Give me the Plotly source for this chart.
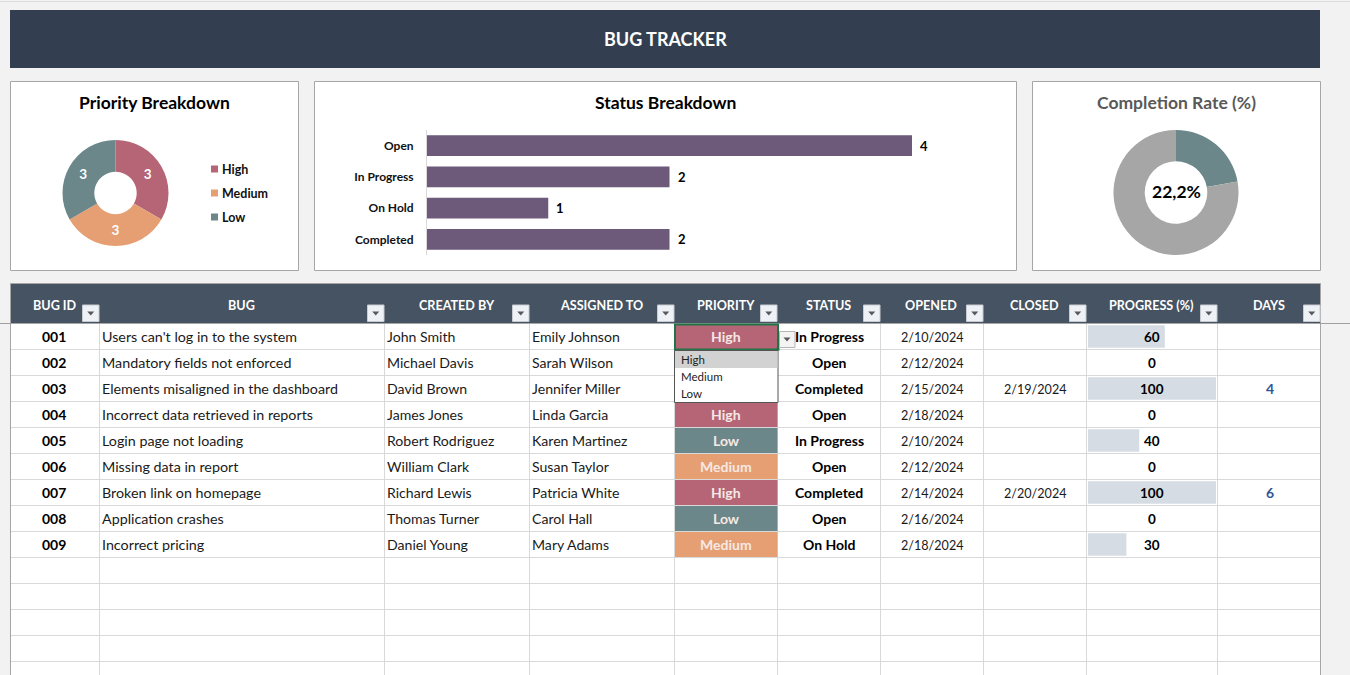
import plotly.graph_objects as go

W, H = 1350, 675
FONT = "Lato"

# ---- data ----
priority_labels = ["High", "Medium", "Low"]
priority_counts = [3, 3, 3]
status_labels = ["Open", "In Progress", "On Hold", "Completed"]
status_counts = [4, 2, 1, 2]
completion_labels = ["Completed", "Remaining"]
completion_values = [22.2, 77.8]
completion_text = "22,2%"

headers = ["BUG ID", "BUG", "CREATED BY", "ASSIGNED TO", "PRIORITY", "STATUS",
           "OPENED", "CLOSED", "PROGRESS (%)", "DAYS"]
bug_ids = ["001", "002", "003", "004", "005", "006", "007", "008", "009"]
bugs = ["Users can't log in to the system", "Mandatory fields not enforced",
        "Elements misaligned in the dashboard", "Incorrect data retrieved in reports",
        "Login page not loading", "Missing data in report", "Broken link on homepage",
        "Application crashes", "Incorrect pricing"]
created_by = ["John Smith", "Michael Davis", "David Brown", "James Jones", "Robert Rodriguez",
              "William Clark", "Richard Lewis", "Thomas Turner", "Daniel Young"]
assigned_to = ["Emily Johnson", "Sarah Wilson", "Jennifer Miller", "Linda Garcia", "Karen Martinez",
               "Susan Taylor", "Patricia White", "Carol Hall", "Mary Adams"]
# rows 002 and 003 are hidden behind the open drop-down list
priorities = ["High", None, None, "High", "Low", "Medium", "High", "Low", "Medium"]
statuses = ["In Progress", "Open", "Completed", "Open", "In Progress", "Open", "Completed", "Open", "On Hold"]
opened = ["2/10/2024", "2/12/2024", "2/15/2024", "2/18/2024", "2/10/2024", "2/12/2024",
          "2/14/2024", "2/16/2024", "2/18/2024"]
closed = ["", "", "2/19/2024", "", "", "", "2/20/2024", "", ""]
progress = [60, 0, 100, 0, 40, 0, 100, 0, 30]
days = ["", "", "4", "", "", "", "6", "", ""]
dropdown_items = ["High", "Medium", "Low"]

# ---- styles ----
C_BG, C_BANNER, C_HEAD = "#f2f2f2", "#333f50", "#465362"
C_CARD = "#a6a6a6"
C_GRID = "#d9d9d9"
C_PURPLE = "#6d597a"
C_BAR = "#d6dce4"
P_COL = {"High": "#b56576", "Medium": "#e59f73", "Low": "#6b8789"}
col_edges = [10.5, 99.5, 384.5, 529.5, 674.5, 777.5, 880.5, 983.5, 1086.5, 1217.5, 1320.5]
HEAD_T, HEAD_B, ROW_H = 283.5, 323.5, 26


def px(x):
    return x / W


def py(y):
    return 1 - y / H


shapes, annos = [], []


def rect(x0, y0, x1, y1, fill=None, line=None, lw=1, layer="below"):
    shapes.append(dict(type="rect", xref="paper", yref="paper", x0=px(x0), x1=px(x1), y0=py(y0), y1=py(y1),
                       fillcolor=fill or "rgba(0,0,0,0)", line=dict(color=line or "rgba(0,0,0,0)", width=lw if line else 0),
                       layer=layer))


def seg(x0, y0, x1, y1, color, lw=1):
    shapes.append(dict(type="line", xref="paper", yref="paper", x0=px(x0), x1=px(x1), y0=py(y0), y1=py(y1),
                       line=dict(color=color, width=lw), layer="below"))


def tri(cx, cy, color="#595959"):
    path = "M %f %f L %f %f L %f %f Z" % (px(cx - 3.5), py(cy - 2), px(cx + 3.5), py(cy - 2), px(cx), py(cy + 2))
    shapes.append(dict(type="path", xref="paper", yref="paper", path=path, fillcolor=color,
                       line=dict(width=0), layer="below"))


def text(x, y, s, size=14, color="#1a1a1a", bold=False, anchor="center"):
    annos.append(dict(xref="paper", yref="paper", x=px(x), y=py(y), text=s, showarrow=False, xanchor=anchor,
                      yanchor="middle", borderpad=0, borderwidth=0,
                      font=dict(family=FONT, size=size, color=color, weight=700 if bold else 400)))


# page furniture
seg(0, 1.5, W, 1.5, "#dcdcdc")
rect(10, 10, 1320, 68, fill=C_BANNER)
text(665.5, 39, "BUG TRACKER", 18, "#ffffff", True)
for x0, x1, title, col in [(10.5, 298.5, "Priority Breakdown", "#000000"),
                           (314.5, 1016.5, "Status Breakdown", "#000000"),
                           (1032.5, 1320.5, "Completion Rate (%)", "#595959")]:
    rect(x0, 81.5, x1, 270.5, fill="#ffffff", line=C_CARD)
    text((x0 + x1) / 2 - 0.5, 102.5, title, 17.5, col, True)

# priority legend
for i, lab in enumerate(priority_labels):
    y = 169 + 24 * i
    rect(211, y - 3.5, 218, y + 3.5, fill=P_COL[lab])
    text(221.5, y + 0.5, lab, 12.5, "#111111", True, "left")

# table
n_grid_rows = 15
rect(col_edges[0], HEAD_T, col_edges[-1], H + 5, fill="#ffffff")
for r in range(1, n_grid_rows):
    y = HEAD_B + r * ROW_H
    seg(col_edges[0], y, col_edges[-1], y, C_GRID)
for x in col_edges[1:-1]:
    seg(x, HEAD_B, x, H + 5, C_GRID)
seg(col_edges[0], HEAD_B, col_edges[0], H + 5, C_CARD)
seg(col_edges[-1], HEAD_B, col_edges[-1], H + 5, C_CARD)
seg(0, HEAD_B, W, HEAD_B, "#a0a0a0")
rect(col_edges[0], HEAD_T, col_edges[-1], HEAD_B, fill=C_HEAD, line="#a6a6a6")

for i, h in enumerate(headers):
    x0, x1 = col_edges[i], col_edges[i + 1]
    text((x0 + x1) / 2 - 0.5, 305, h, 12.6, "#ffffff", True)
    rect(x1 - 17, 305, x1 - 0.5, 321.5, fill="#eef1f5", line="#c8ccd2")
    tri(x1 - 8.75, 313.5)


def cy(r):
    return HEAD_B + (r + 0.5) * ROW_H


def cx(c):
    return (col_edges[c] + col_edges[c + 1]) / 2


for r in range(len(bug_ids)):
    y = cy(r)
    text(cx(0) - 1, y, bug_ids[r], 14, "#000000", True)
    text(col_edges[1] + 2.5, y, bugs[r], 14.3, "#1a1a1a", False, "left")
    text(col_edges[2] + 2.5, y, created_by[r], 14.1, "#1a1a1a", False, "left")
    text(col_edges[3] + 2.5, y, assigned_to[r], 14.1, "#1a1a1a", False, "left")
    if priorities[r]:
        rect(col_edges[4] + 0.5, y - ROW_H / 2 + 0.5, col_edges[5], y + ROW_H / 2 - 0.5, fill=P_COL[priorities[r]])
        text(cx(4), y, priorities[r], 14, "#f6e9e4", True)
    text(cx(5), y, statuses[r], 14, "#000000", True)
    text(cx(6), y + 1, opened[r], 12.6, "#1a1a1a")
    if closed[r]:
        text(cx(7), y + 1, closed[r], 12.6, "#1a1a1a")
    text(cx(8) - 0.5, y, str(progress[r]), 13.5, "#000000", True)
    if days[r]:
        text(cx(9) + 0.5, y, days[r], 14, "#2f5597", True)

# selected cell and open list
sel_top, sel_bot = HEAD_B + 1, HEAD_B + ROW_H
rect(col_edges[4] + 0.5, sel_top, col_edges[5] + 0.5, sel_bot, line="#217346", lw=2)
rect(col_edges[5] - 1, sel_bot - 2, col_edges[5] + 2, sel_bot + 1, fill="#217346")
rect(779.5, 331.5, 795, 347.5, fill="#f4f4f4", line="#b5b5b5")
tri(787, 339.5)
rect(col_edges[4], 350.5, col_edges[5] + 0.5, 402.5, fill="#ffffff", line="#555555")
rect(col_edges[4] + 0.5, 351, col_edges[5], 368, fill="#d2d2d2")
for i, item in enumerate(dropdown_items):
    text(681, 359.5 + 17 * i, item, 11.5, "#222222", False, "left")

# bar axis value labels
for lab, v in zip(status_labels, status_counts):
    annos.append(dict(xref="x", yref="y", x=v, y=lab, text=str(v), showarrow=False, xanchor="left", xshift=6,
                      font=dict(family=FONT, size=13, color="#000000", weight=700)))
text(1176, 191.5, completion_text, 17.5, "#000000", True)

fig = go.Figure()
# Priority donut
label_font = dict(family=FONT, size=13.5, color="#ffffff", weight=700)
fig.add_trace(go.Pie(labels=priority_labels, values=priority_counts, hole=0.4, sort=False, direction="clockwise",
                     rotation=0, marker=dict(colors=[P_COL[p] for p in priority_labels], line=dict(width=0)),
                     text=[str(v) for v in priority_counts], textinfo="text", textposition="inside",
                     insidetextorientation="horizontal", textfont=label_font, insidetextfont=label_font,
                     domain=dict(x=[px(62.5), px(168.5)], y=[py(246), py(140)]), showlegend=False))
# Completion donut
fig.add_trace(go.Pie(labels=completion_labels, values=completion_values, hole=0.5, sort=False, direction="clockwise",
                     rotation=0, marker=dict(colors=[P_COL["Low"], "#a6a6a6"], line=dict(width=0)), textinfo="none",
                     domain=dict(x=[px(1113.5), px(1238.5)], y=[py(255), py(130)]), showlegend=False))
# Status bars
fig.add_trace(go.Bar(y=status_labels, x=status_counts, orientation="h", marker=dict(color=C_PURPLE, line=dict(width=0)),
                     width=0.67, xaxis="x", yaxis="y", showlegend=False))
# Progress in-cell bars
fig.add_trace(go.Bar(y=bug_ids, x=progress, orientation="h", marker=dict(color=C_BAR, line=dict(width=0)),
                     width=0.86, xaxis="x2", yaxis="y2", showlegend=False))

fig.update_layout(
    width=W, height=H, autosize=False, margin=dict(l=0, r=0, t=0, b=0),
    paper_bgcolor=C_BG, plot_bgcolor="rgba(0,0,0,0)", shapes=shapes, annotations=annos,
    font=dict(family=FONT),
    xaxis=dict(domain=[px(427), px(1000)], range=[0, 573 / 121.25], visible=False, fixedrange=True),
    yaxis=dict(domain=[py(255), py(130)], anchor="x", autorange="reversed", type="category",
               categoryorder="array", categoryarray=status_labels, showgrid=False, zeroline=False,
               showline=True, linecolor=C_GRID, linewidth=1, ticks="outside", ticklen=10,
               tickcolor="rgba(0,0,0,0)", tickfont=dict(family=FONT, size=12, color="#111111", weight=700)),
    xaxis2=dict(domain=[px(1088), px(1216)], range=[0, 100], visible=False, anchor="y2", fixedrange=True),
    yaxis2=dict(domain=[py(HEAD_B + ROW_H * len(bug_ids)), py(HEAD_B)], anchor="x2", autorange="reversed",
                type="category", categoryorder="array", categoryarray=bug_ids, visible=False),
)
fig.write_html("out.html", config=dict(displayModeBar=False),
               post_script="document.body.style.margin='0';document.documentElement.style.overflow='hidden';")
